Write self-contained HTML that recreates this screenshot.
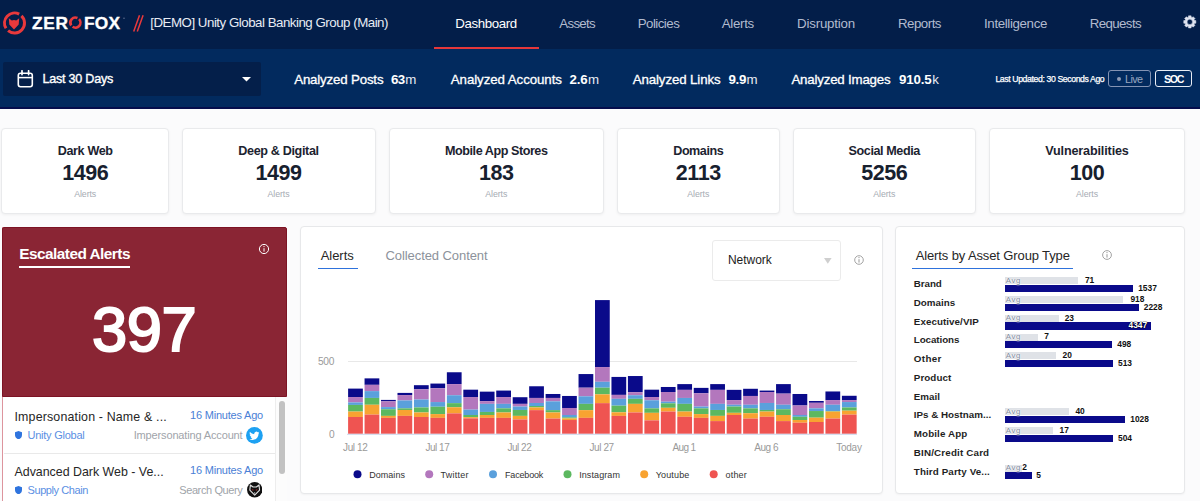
<!DOCTYPE html>
<html><head><meta charset="utf-8"><title>ZeroFox Dashboard</title>
<style>
html,body{margin:0;padding:0}
body{width:1200px;height:501px;overflow:hidden;position:relative;background:#fbfbfc;font-family:"Liberation Sans",sans-serif}
.b{position:absolute;display:block}
.t{position:absolute;white-space:nowrap;display:block}
</style></head><body>
<div class="b" style="left:0px;top:0px;width:1200px;height:49px;background:#031e49"></div>
<div class="b" style="left:0px;top:49px;width:1200px;height:59.5px;background:#022a5e;border-bottom:2px solid #050d4c;box-sizing:border-box"></div>
<div class="b" style="left:433.5px;top:46.7px;width:105px;height:2.3px;background:#e5373a"></div>
<svg class="b" style="left:0;top:0" width="200" height="49" viewBox="0 0 200 49">
<path d="M6.02 28.30A10.0 10.0 0 0 1 19.19 14.17" fill="none" stroke="#e8393c" stroke-width="3.0"/>
<path d="M21.45 15.81A10.0 10.0 0 0 1 8.07 30.66" fill="none" stroke="#e8393c" stroke-width="3.0"/>
<path d="M8.8 18.3L11.8 20.5L14.0 20.0L16.2 20.5L19.2 18.3L18.7 24.4L14.0 29.4L9.3 24.4Z" fill="#e8393c"/>
<path d="M71.21 25.42A5.05 5.05 0 0 1 77.45 17.99" fill="none" stroke="#e8393c" stroke-width="2.6"/>
<path d="M79.03 19.09A5.05 5.05 0 0 1 72.58 26.79" fill="none" stroke="#e8393c" stroke-width="2.6"/>
<circle cx="124" cy="18.2" r="0.8" fill="#5a6a8c"/>
<path d="M133.7 31.6L139.5 15.2M137.3 31.6L143.1 15.2" stroke="#e8393c" stroke-width="1.5" fill="none"/>
</svg>
<span class="t" style="left:32.00px;top:11.81px;font-size:17.3px;line-height:22px;color:#fff;font-weight:700;letter-spacing:0.767px;-webkit-text-stroke:0.35px #fff;">ZER</span>
<span class="t" style="left:84.00px;top:11.81px;font-size:17.3px;line-height:22px;color:#fff;font-weight:700;letter-spacing:0.212px;-webkit-text-stroke:0.35px #fff;">FOX</span>
<span class="t" style="left:150.30px;top:14.49px;font-size:13.3px;line-height:17px;color:#e8ecf4;letter-spacing:-0.488px;">[DEMO] Unity Global Banking Group (Main)</span>
<span class="t" style="left:455.30px;top:15.09px;font-size:13.3px;line-height:17px;color:#ffffff;letter-spacing:-0.407px;">Dashboard</span>
<span class="t" style="left:559.30px;top:15.09px;font-size:13.3px;line-height:17px;color:#b2bbcf;letter-spacing:-0.702px;">Assets</span>
<span class="t" style="left:637.70px;top:15.09px;font-size:13.3px;line-height:17px;color:#b2bbcf;letter-spacing:-0.529px;">Policies</span>
<span class="t" style="left:721.70px;top:15.09px;font-size:13.3px;line-height:17px;color:#b2bbcf;letter-spacing:-0.283px;">Alerts</span>
<span class="t" style="left:797.00px;top:15.09px;font-size:13.3px;line-height:17px;color:#b2bbcf;letter-spacing:-0.188px;">Disruption</span>
<span class="t" style="left:898.00px;top:15.09px;font-size:13.3px;line-height:17px;color:#b2bbcf;letter-spacing:-0.510px;">Reports</span>
<span class="t" style="left:984.00px;top:15.09px;font-size:13.3px;line-height:17px;color:#b2bbcf;letter-spacing:-0.357px;">Intelligence</span>
<span class="t" style="left:1089.80px;top:15.09px;font-size:13.3px;line-height:17px;color:#b2bbcf;letter-spacing:-0.623px;">Requests</span>
<div class="b" style="left:3px;top:62px;width:258px;height:33.5px;background:#041f4a;border-radius:2px"></div>
<span class="t" style="left:42.50px;top:70.63px;font-size:12.6px;line-height:16px;color:#ffffff;letter-spacing:-0.253px;-webkit-text-stroke:0.35px #fff;">Last 30 Days</span>
<svg class="b" style="left:17px;top:69.5px" width="17" height="18" viewBox="0 0 17 18"><rect x="1.3" y="3.2" width="14" height="13.6" rx="2.2" fill="none" stroke="#fff" stroke-width="1.6"/><path d="M1.3 7.6H15.3" stroke="#fff" stroke-width="1.5"/><path d="M5 0.8V4.6M11.6 0.8V4.6" stroke="#fff" stroke-width="1.7" stroke-linecap="round"/></svg><svg class="b" style="left:242.3px;top:77px" width="9" height="4.6" viewBox="0 0 90 46"><path d="M0 0H90L45 46Z" fill="#fff"/></svg>
<span class="t" style="left:294.20px;top:70.79px;font-size:13.3px;line-height:17px;color:#ffffff;letter-spacing:-0.177px;-webkit-text-stroke:0.3px #fff;">Analyzed Posts</span>
<span class="t" style="left:391.00px;top:70.79px;font-size:13.3px;line-height:17px;color:#ffffff;font-weight:700;letter-spacing:-0.597px;">63</span>
<span class="t" style="left:405.20px;top:70.79px;font-size:13.3px;line-height:17px;color:#e8ecf4;letter-spacing:0.521px;">m</span>
<span class="t" style="left:450.80px;top:70.79px;font-size:13.3px;line-height:17px;color:#ffffff;letter-spacing:-0.075px;-webkit-text-stroke:0.3px #fff;">Analyzed Accounts</span>
<span class="t" style="left:569.50px;top:70.79px;font-size:13.3px;line-height:17px;color:#ffffff;font-weight:700;letter-spacing:-0.196px;">2.6</span>
<span class="t" style="left:588.00px;top:70.79px;font-size:13.3px;line-height:17px;color:#e8ecf4;letter-spacing:0.221px;">m</span>
<span class="t" style="left:632.70px;top:70.79px;font-size:13.3px;line-height:17px;color:#ffffff;letter-spacing:-0.111px;-webkit-text-stroke:0.3px #fff;">Analyzed Links</span>
<span class="t" style="left:728.50px;top:70.79px;font-size:13.3px;line-height:17px;color:#ffffff;font-weight:700;letter-spacing:-0.330px;">9.9</span>
<span class="t" style="left:746.60px;top:70.79px;font-size:13.3px;line-height:17px;color:#e8ecf4;letter-spacing:-0.279px;">m</span>
<span class="t" style="left:791.40px;top:70.79px;font-size:13.3px;line-height:17px;color:#ffffff;letter-spacing:-0.195px;-webkit-text-stroke:0.3px #fff;">Analyzed Images</span>
<span class="t" style="left:899.00px;top:70.79px;font-size:13.3px;line-height:17px;color:#ffffff;font-weight:700;letter-spacing:-0.137px;">910.5</span>
<span class="t" style="left:932.20px;top:70.79px;font-size:13.3px;line-height:17px;color:#e8ecf4;letter-spacing:-0.150px;">k</span>
<span class="t" style="left:995.40px;top:73.79px;font-size:8.7px;line-height:11px;color:#ffffff;letter-spacing:-0.388px;-webkit-text-stroke:0.25px #fff;">Last Updated: 30 Seconds Ago</span>
<div class="b" style="left:1108.4px;top:70.3px;width:42.8px;height:17.1px;border:1.3px solid #8493b3;border-radius:3px;box-sizing:border-box"></div>
<div class="b" style="left:1117.4px;top:76.6px;width:4px;height:4px;background:#8e9bb6;border-radius:50%"></div>
<span class="t" style="left:1125.00px;top:71.66px;font-size:10.8px;line-height:14px;color:#9aa7c0;letter-spacing:-0.578px;">Live</span>
<div class="b" style="left:1155.2px;top:70.3px;width:37.1px;height:17.1px;border:1.4px solid #e8ecf4;border-radius:3px;box-sizing:border-box"></div>
<span class="t" style="left:1164.00px;top:71.73px;font-size:10.6px;line-height:14px;color:#ffffff;font-weight:700;letter-spacing:-1.323px;">SOC</span>
<svg class="b" style="left:1180px;top:12px" width="20" height="20" viewBox="0 0 20 20"><path d="M8.46 3.85L11.14 3.85L11.15 5.19L12.18 5.61L13.13 4.67L15.03 6.57L14.09 7.52L14.51 8.55L15.85 8.56L15.85 11.24L14.51 11.25L14.09 12.28L15.03 13.23L13.13 15.13L12.18 14.19L11.15 14.61L11.14 15.95L8.46 15.95L8.45 14.61L7.42 14.19L6.47 15.13L4.57 13.23L5.51 12.28L5.09 11.25L3.75 11.24L3.75 8.56L5.09 8.55L5.51 7.52L4.57 6.57L6.47 4.67L7.42 5.61L8.45 5.19ZM7.1000000000000005 9.9a2.7 2.7 0 1 0 5.4 0a2.7 2.7 0 1 0 -5.4 0Z" fill="#dfe3ef" fill-rule="evenodd" stroke="#dfe3ef" stroke-width="0.5" stroke-linejoin="round"/></svg>
<div class="b" style="left:1.4px;top:128px;width:167.6px;height:85.5px;background:#fff;border:1px solid #e9eaec;border-radius:4px;box-sizing:border-box;box-shadow:0 1px 3px rgba(0,0,0,.05)"></div>
<span class="t" style="left:57.70px;top:142.73px;font-size:12.6px;line-height:16px;color:#1c2330;font-weight:700;letter-spacing:-0.361px;">Dark Web</span>
<span class="t" style="left:62.24px;top:158.75px;font-size:21.5px;line-height:28px;color:#17202e;font-weight:700;letter-spacing:-0.478px;">1496</span>
<span class="t" style="left:74.20px;top:188.95px;font-size:8.8px;line-height:11px;color:#a6abb3;letter-spacing:-0.082px;">Alerts</span>
<div class="b" style="left:181.5px;top:128px;width:194.0px;height:85.5px;background:#fff;border:1px solid #e9eaec;border-radius:4px;box-sizing:border-box;box-shadow:0 1px 3px rgba(0,0,0,.05)"></div>
<span class="t" style="left:238.25px;top:142.73px;font-size:12.6px;line-height:16px;color:#1c2330;font-weight:700;letter-spacing:-0.351px;">Deep &amp; Digital</span>
<span class="t" style="left:255.54px;top:158.75px;font-size:21.5px;line-height:28px;color:#17202e;font-weight:700;letter-spacing:-0.478px;">1499</span>
<span class="t" style="left:267.50px;top:188.95px;font-size:8.8px;line-height:11px;color:#a6abb3;letter-spacing:-0.082px;">Alerts</span>
<div class="b" style="left:388.5px;top:128px;width:215.5px;height:85.5px;background:#fff;border:1px solid #e9eaec;border-radius:4px;box-sizing:border-box;box-shadow:0 1px 3px rgba(0,0,0,.05)"></div>
<span class="t" style="left:445.00px;top:142.73px;font-size:12.6px;line-height:16px;color:#1c2330;font-weight:700;letter-spacing:-0.449px;">Mobile App Stores</span>
<span class="t" style="left:479.03px;top:158.75px;font-size:21.5px;line-height:28px;color:#17202e;font-weight:700;letter-spacing:-0.478px;">183</span>
<span class="t" style="left:485.25px;top:188.95px;font-size:8.8px;line-height:11px;color:#a6abb3;letter-spacing:-0.082px;">Alerts</span>
<div class="b" style="left:616.5px;top:128px;width:163.5px;height:85.5px;background:#fff;border:1px solid #e9eaec;border-radius:4px;box-sizing:border-box;box-shadow:0 1px 3px rgba(0,0,0,.05)"></div>
<span class="t" style="left:673.25px;top:142.73px;font-size:12.6px;line-height:16px;color:#1c2330;font-weight:700;letter-spacing:-0.459px;">Domains</span>
<span class="t" style="left:675.86px;top:158.75px;font-size:21.5px;line-height:28px;color:#17202e;font-weight:700;letter-spacing:-0.466px;">2113</span>
<span class="t" style="left:687.25px;top:188.95px;font-size:8.8px;line-height:11px;color:#a6abb3;letter-spacing:-0.082px;">Alerts</span>
<div class="b" style="left:792.5px;top:128px;width:183.5px;height:85.5px;background:#fff;border:1px solid #e9eaec;border-radius:4px;box-sizing:border-box;box-shadow:0 1px 3px rgba(0,0,0,.05)"></div>
<span class="t" style="left:848.50px;top:142.73px;font-size:12.6px;line-height:16px;color:#1c2330;font-weight:700;letter-spacing:-0.402px;">Social Media</span>
<span class="t" style="left:861.29px;top:158.75px;font-size:21.5px;line-height:28px;color:#17202e;font-weight:700;letter-spacing:-0.478px;">5256</span>
<span class="t" style="left:873.25px;top:188.95px;font-size:8.8px;line-height:11px;color:#a6abb3;letter-spacing:-0.082px;">Alerts</span>
<div class="b" style="left:989px;top:128px;width:196px;height:85.5px;background:#fff;border:1px solid #e9eaec;border-radius:4px;box-sizing:border-box;box-shadow:0 1px 3px rgba(0,0,0,.05)"></div>
<span class="t" style="left:1045.25px;top:142.73px;font-size:12.6px;line-height:16px;color:#1c2330;font-weight:700;letter-spacing:-0.144px;">Vulnerabilities</span>
<span class="t" style="left:1069.78px;top:158.75px;font-size:21.5px;line-height:28px;color:#17202e;font-weight:700;letter-spacing:-0.478px;">100</span>
<span class="t" style="left:1076.00px;top:188.95px;font-size:8.8px;line-height:11px;color:#a6abb3;letter-spacing:-0.082px;">Alerts</span>
<div class="b" style="left:1.7px;top:226.7px;width:285.3px;height:275px;background:#fff;border-left:1.5px solid #dd949d;box-sizing:border-box"></div>
<div class="b" style="left:1.7px;top:226.5px;width:285.3px;height:170.5px;background:#8a2534;border-radius:2px 2px 0 0;border:1px solid #7c1324;box-sizing:border-box"></div>
<span class="t" style="left:19.20px;top:243.56px;font-size:15.4px;line-height:20px;color:#ffffff;font-weight:700;letter-spacing:-0.529px;">Escalated Alerts</span>
<div class="b" style="left:19.2px;top:266.3px;width:110.8px;height:2.2px;background:#fff"></div>
<span class="t" style="left:92.10px;top:288.07px;font-size:63.3px;line-height:82px;color:#ffffff;letter-spacing:-0.438px;-webkit-text-stroke:2px #fff;">397</span>
<svg class="b" style="left:256.4px;top:240.8px" width="16" height="16" viewBox="0 0 16 16"><circle cx="8" cy="8" r="4.6" fill="none" stroke="#fff" stroke-width="1.0"/><path d="M8 7.2V10.6" stroke="#fff" stroke-width="1"/><circle cx="8" cy="5.6" r="0.65" fill="#fff"/></svg>
<span class="t" style="left:14.50px;top:408.90px;font-size:12.4px;line-height:16px;color:#262626;letter-spacing:0.167px;">Impersonation - Name &amp; ...</span>
<span class="t" style="left:190.00px;top:408.39px;font-size:11px;line-height:14px;color:#4a80d6;letter-spacing:-0.202px;">16 Minutes Ago</span>
<span class="t" style="left:27.50px;top:427.89px;font-size:11px;line-height:14px;color:#5b8fe3;letter-spacing:-0.243px;">Unity Global</span>
<span class="t" style="left:133.70px;top:427.89px;font-size:11px;line-height:14px;color:#a0a4aa;letter-spacing:-0.148px;">Impersonating Account</span>
<span class="t" style="left:14.50px;top:463.90px;font-size:12.4px;line-height:16px;color:#262626;letter-spacing:-0.005px;">Advanced Dark Web - Ve...</span>
<span class="t" style="left:190.00px;top:463.39px;font-size:11px;line-height:14px;color:#4a80d6;letter-spacing:-0.202px;">16 Minutes Ago</span>
<span class="t" style="left:27.50px;top:482.89px;font-size:11px;line-height:14px;color:#5b8fe3;letter-spacing:-0.411px;">Supply Chain</span>
<span class="t" style="left:179.20px;top:482.89px;font-size:11px;line-height:14px;color:#a0a4aa;letter-spacing:-0.380px;">Search Query</span>
<div class="b" style="left:3.5px;top:453px;width:271px;height:1px;background:#e9e9e9"></div>
<div class="b" style="left:274.5px;top:397px;width:12px;height:104px;background:#fcfcfc;border-left:1px solid #ededed;box-sizing:border-box"></div>
<div class="b" style="left:278.7px;top:400.5px;width:6.3px;height:73.2px;background:#c2c2c2;border-radius:3px"></div>
<svg class="b" style="left:14.5px;top:431px" width="7" height="8.4" viewBox="0 0 70 84"><path d="M35 0L70 12V40C70 62 54 78 35 84C16 78 0 62 0 40V12Z" fill="#2f74de"/></svg><svg class="b" style="left:14.5px;top:485.5px" width="7" height="8.4" viewBox="0 0 70 84"><path d="M35 0L70 12V40C70 62 54 78 35 84C16 78 0 62 0 40V12Z" fill="#2f74de"/></svg><svg class="b" style="left:246.1px;top:427.3px" width="16.8" height="16.8" viewBox="0 0 24 24"><circle cx="12" cy="12" r="12" fill="#1da1f2"/><path d="M19.2 8.1c-.5.2-1.1.4-1.7.5.6-.4 1.1-1 1.3-1.7-.6.3-1.2.6-1.9.7a3 3 0 0 0-5.100 2.700A8.400 8.400 0 0 1 5.700 7.200a3 3 0 0 0 .900 4 3 3 0 0 1-1.300-.4c0 1.500 1 2.700 2.400 3-.4.100-.9.100-1.300 0a3 3 0 0 0 2.800 2.100 6 6 0 0 1-4.400 1.200 8.400 8.400 0 0 0 4.600 1.300c5.500 0 8.500-4.600 8.500-8.500v-.400c.600-.4 1.100-.9 1.500-1.500z" fill="#fff"/></svg><svg class="b" style="left:247px;top:482.3px" width="15.4" height="15.4" viewBox="0 0 24 24"><circle cx="12" cy="12" r="12" fill="#111"/><path d="M5.200 4.600L9.400 7.800H14.600L18.800 4.600L19.600 12.600L12 20.400L4.400 12.600Z" fill="none" stroke="#e4e4e4" stroke-width="1.700" stroke-linejoin="round"/><path d="M12 15.600V18.500" stroke="#cfcfcf" stroke-width="1.100" fill="none"/><path d="M7.600 11.200L10.900 12.500L8.600 13.400Z" fill="#e5373a"/><path d="M16.400 11.200L13.100 12.500L15.400 13.400Z" fill="#e5373a"/></svg>
<div class="b" style="left:300px;top:226.2px;width:582.5px;height:267.6px;background:#fff;border:1px solid #e7e8ea;border-radius:4px;box-sizing:border-box;box-shadow:0 1px 2px rgba(0,0,0,.04)"></div>
<span class="t" style="left:320.70px;top:247.00px;font-size:13px;line-height:17px;color:#262626;letter-spacing:-0.038px;">Alerts</span>
<div class="b" style="left:317.5px;top:267.5px;width:40px;height:1.5px;background:#2e72dc"></div>
<span class="t" style="left:385.50px;top:247.00px;font-size:13px;line-height:17px;color:#8c929b;letter-spacing:-0.079px;">Collected Content</span>
<div class="b" style="left:711.5px;top:240.3px;width:129.8px;height:40.5px;background:#fff;border:1px solid #ebebeb;border-radius:3px;box-sizing:border-box"></div>
<span class="t" style="left:728.00px;top:252.44px;font-size:12px;line-height:16px;color:#1c1c1c;letter-spacing:-0.044px;">Network</span>
<svg class="b" style="left:824.2px;top:258px" width="7.6" height="5.8" viewBox="0 0 76 58"><path d="M0 0H76L38 58Z" fill="#cfcfcf"/></svg>
<svg class="b" style="left:851.2px;top:251.7px" width="16" height="16" viewBox="0 0 16 16"><circle cx="8" cy="8" r="4.3" fill="none" stroke="#999" stroke-width="0.9"/><path d="M8 7.2V10.6" stroke="#999" stroke-width="1"/><circle cx="8" cy="5.6" r="0.65" fill="#999"/></svg>
<svg class="b" style="left:0;top:0" width="1200" height="501" viewBox="0 0 1200 501">
<rect x="348" y="361" width="509" height="1" fill="#e8e8e8"/>
<rect x="348.10" y="388.60" width="14.75" height="8.44" fill="#0a0a8a"/>
<rect x="348.10" y="397.04" width="14.75" height="5.39" fill="#b377bd"/>
<rect x="348.10" y="402.42" width="14.75" height="2.51" fill="#5aa0dc"/>
<rect x="348.10" y="404.94" width="14.75" height="6.64" fill="#5cb860"/>
<rect x="348.10" y="411.58" width="14.75" height="5.39" fill="#f8a331"/>
<rect x="348.10" y="416.97" width="14.75" height="16.83" fill="#ef5451"/>
<rect x="364.56" y="378.37" width="14.75" height="6.46" fill="#0a0a8a"/>
<rect x="364.56" y="384.83" width="14.75" height="6.28" fill="#b377bd"/>
<rect x="364.56" y="391.11" width="14.75" height="6.82" fill="#5aa0dc"/>
<rect x="364.56" y="397.94" width="14.75" height="6.82" fill="#5cb860"/>
<rect x="364.56" y="404.76" width="14.75" height="9.87" fill="#f8a331"/>
<rect x="364.56" y="414.63" width="14.75" height="19.17" fill="#ef5451"/>
<rect x="381.02" y="399.91" width="14.75" height="1.44" fill="#0a0a8a"/>
<rect x="381.02" y="401.35" width="14.75" height="5.75" fill="#b377bd"/>
<rect x="381.02" y="407.09" width="14.75" height="2.15" fill="#5aa0dc"/>
<rect x="381.02" y="409.25" width="14.75" height="6.64" fill="#5cb860"/>
<rect x="381.02" y="415.89" width="14.75" height="1.97" fill="#f8a331"/>
<rect x="381.02" y="417.86" width="14.75" height="15.94" fill="#ef5451"/>
<rect x="397.48" y="392.91" width="14.75" height="2.15" fill="#0a0a8a"/>
<rect x="397.48" y="395.06" width="14.75" height="5.39" fill="#b377bd"/>
<rect x="397.48" y="400.45" width="14.75" height="7.90" fill="#5aa0dc"/>
<rect x="397.48" y="408.35" width="14.75" height="1.62" fill="#5cb860"/>
<rect x="397.48" y="409.96" width="14.75" height="5.92" fill="#f8a331"/>
<rect x="397.48" y="415.89" width="14.75" height="17.91" fill="#ef5451"/>
<rect x="413.94" y="385.19" width="14.75" height="4.13" fill="#0a0a8a"/>
<rect x="413.94" y="389.32" width="14.75" height="10.23" fill="#b377bd"/>
<rect x="413.94" y="399.55" width="14.75" height="7.90" fill="#5aa0dc"/>
<rect x="413.94" y="407.45" width="14.75" height="5.03" fill="#5cb860"/>
<rect x="413.94" y="412.48" width="14.75" height="4.49" fill="#f8a331"/>
<rect x="413.94" y="416.97" width="14.75" height="16.83" fill="#ef5451"/>
<rect x="430.40" y="383.57" width="14.75" height="4.67" fill="#0a0a8a"/>
<rect x="430.40" y="388.24" width="14.75" height="13.82" fill="#b377bd"/>
<rect x="430.40" y="402.06" width="14.75" height="4.67" fill="#5aa0dc"/>
<rect x="430.40" y="406.73" width="14.75" height="7.36" fill="#5cb860"/>
<rect x="430.40" y="414.09" width="14.75" height="3.77" fill="#f8a331"/>
<rect x="430.40" y="417.86" width="14.75" height="15.94" fill="#ef5451"/>
<rect x="446.86" y="372.26" width="14.75" height="11.85" fill="#0a0a8a"/>
<rect x="446.86" y="384.11" width="14.75" height="11.13" fill="#b377bd"/>
<rect x="446.86" y="395.24" width="14.75" height="7.90" fill="#5aa0dc"/>
<rect x="446.86" y="403.14" width="14.75" height="4.13" fill="#5cb860"/>
<rect x="446.86" y="407.27" width="14.75" height="6.10" fill="#f8a331"/>
<rect x="446.86" y="413.38" width="14.75" height="20.42" fill="#ef5451"/>
<rect x="463.32" y="389.68" width="14.75" height="7.36" fill="#0a0a8a"/>
<rect x="463.32" y="397.04" width="14.75" height="12.57" fill="#b377bd"/>
<rect x="463.32" y="409.61" width="14.75" height="5.39" fill="#5aa0dc"/>
<rect x="463.32" y="414.99" width="14.75" height="2.15" fill="#5cb860"/>
<rect x="463.32" y="417.15" width="14.75" height="1.26" fill="#f8a331"/>
<rect x="463.32" y="418.40" width="14.75" height="15.40" fill="#ef5451"/>
<rect x="479.78" y="391.65" width="14.75" height="9.52" fill="#0a0a8a"/>
<rect x="479.78" y="401.17" width="14.75" height="2.69" fill="#b377bd"/>
<rect x="479.78" y="403.86" width="14.75" height="8.08" fill="#5aa0dc"/>
<rect x="479.78" y="411.94" width="14.75" height="3.05" fill="#5cb860"/>
<rect x="479.78" y="414.99" width="14.75" height="2.87" fill="#f8a331"/>
<rect x="479.78" y="417.86" width="14.75" height="15.94" fill="#ef5451"/>
<rect x="496.24" y="390.57" width="14.75" height="6.46" fill="#0a0a8a"/>
<rect x="496.24" y="397.04" width="14.75" height="6.82" fill="#b377bd"/>
<rect x="496.24" y="403.86" width="14.75" height="4.49" fill="#5aa0dc"/>
<rect x="496.24" y="408.35" width="14.75" height="4.13" fill="#5cb860"/>
<rect x="496.24" y="412.48" width="14.75" height="5.39" fill="#f8a331"/>
<rect x="496.24" y="417.86" width="14.75" height="15.94" fill="#ef5451"/>
<rect x="512.70" y="397.22" width="14.75" height="6.64" fill="#0a0a8a"/>
<rect x="512.70" y="403.86" width="14.75" height="2.69" fill="#b377bd"/>
<rect x="512.70" y="406.55" width="14.75" height="3.41" fill="#5aa0dc"/>
<rect x="512.70" y="409.96" width="14.75" height="5.92" fill="#5cb860"/>
<rect x="512.70" y="415.89" width="14.75" height="3.59" fill="#f8a331"/>
<rect x="512.70" y="419.48" width="14.75" height="14.32" fill="#ef5451"/>
<rect x="529.16" y="386.27" width="14.75" height="11.67" fill="#0a0a8a"/>
<rect x="529.16" y="397.94" width="14.75" height="5.03" fill="#b377bd"/>
<rect x="529.16" y="402.96" width="14.75" height="3.05" fill="#5aa0dc"/>
<rect x="529.16" y="406.01" width="14.75" height="1.44" fill="#5cb860"/>
<rect x="529.16" y="407.45" width="14.75" height="2.69" fill="#f8a331"/>
<rect x="529.16" y="410.14" width="14.75" height="23.66" fill="#ef5451"/>
<rect x="545.62" y="393.99" width="14.75" height="3.95" fill="#0a0a8a"/>
<rect x="545.62" y="397.94" width="14.75" height="3.41" fill="#b377bd"/>
<rect x="545.62" y="401.35" width="14.75" height="8.80" fill="#5aa0dc"/>
<rect x="545.62" y="410.14" width="14.75" height="2.33" fill="#5cb860"/>
<rect x="545.62" y="412.48" width="14.75" height="6.10" fill="#f8a331"/>
<rect x="545.62" y="418.58" width="14.75" height="15.22" fill="#ef5451"/>
<rect x="562.08" y="395.96" width="14.75" height="12.03" fill="#0a0a8a"/>
<rect x="562.08" y="407.99" width="14.75" height="7.00" fill="#b377bd"/>
<rect x="562.08" y="414.99" width="14.75" height="2.33" fill="#5aa0dc"/>
<rect x="562.08" y="417.32" width="14.75" height="1.08" fill="#5cb860"/>
<rect x="562.08" y="418.40" width="14.75" height="1.62" fill="#f8a331"/>
<rect x="562.08" y="420.02" width="14.75" height="13.78" fill="#ef5451"/>
<rect x="578.54" y="374.06" width="14.75" height="13.64" fill="#0a0a8a"/>
<rect x="578.54" y="387.70" width="14.75" height="8.62" fill="#b377bd"/>
<rect x="578.54" y="396.32" width="14.75" height="7.54" fill="#5aa0dc"/>
<rect x="578.54" y="403.86" width="14.75" height="6.28" fill="#5cb860"/>
<rect x="578.54" y="410.14" width="14.75" height="7.72" fill="#f8a331"/>
<rect x="578.54" y="417.86" width="14.75" height="15.94" fill="#ef5451"/>
<rect x="595.00" y="300.09" width="14.75" height="66.97" fill="#0a0a8a"/>
<rect x="595.00" y="367.06" width="14.75" height="14.72" fill="#b377bd"/>
<rect x="595.00" y="381.78" width="14.75" height="5.92" fill="#5aa0dc"/>
<rect x="595.00" y="387.70" width="14.75" height="6.64" fill="#5cb860"/>
<rect x="595.00" y="394.34" width="14.75" height="8.80" fill="#f8a331"/>
<rect x="595.00" y="403.14" width="14.75" height="30.66" fill="#ef5451"/>
<rect x="611.46" y="376.93" width="14.75" height="17.95" fill="#0a0a8a"/>
<rect x="611.46" y="394.88" width="14.75" height="3.95" fill="#b377bd"/>
<rect x="611.46" y="398.83" width="14.75" height="6.82" fill="#5aa0dc"/>
<rect x="611.46" y="405.66" width="14.75" height="6.64" fill="#5cb860"/>
<rect x="611.46" y="412.30" width="14.75" height="3.59" fill="#f8a331"/>
<rect x="611.46" y="415.89" width="14.75" height="17.91" fill="#ef5451"/>
<rect x="627.92" y="376.03" width="14.75" height="16.16" fill="#0a0a8a"/>
<rect x="627.92" y="392.19" width="14.75" height="3.05" fill="#b377bd"/>
<rect x="627.92" y="395.24" width="14.75" height="3.59" fill="#5aa0dc"/>
<rect x="627.92" y="398.83" width="14.75" height="5.03" fill="#5cb860"/>
<rect x="627.92" y="403.86" width="14.75" height="8.62" fill="#f8a331"/>
<rect x="627.92" y="412.48" width="14.75" height="21.32" fill="#ef5451"/>
<rect x="644.38" y="389.68" width="14.75" height="7.36" fill="#0a0a8a"/>
<rect x="644.38" y="397.04" width="14.75" height="3.23" fill="#b377bd"/>
<rect x="644.38" y="400.27" width="14.75" height="8.08" fill="#5aa0dc"/>
<rect x="644.38" y="408.35" width="14.75" height="4.49" fill="#5cb860"/>
<rect x="644.38" y="412.84" width="14.75" height="7.54" fill="#f8a331"/>
<rect x="644.38" y="420.38" width="14.75" height="13.42" fill="#ef5451"/>
<rect x="660.84" y="386.98" width="14.75" height="5.03" fill="#0a0a8a"/>
<rect x="660.84" y="392.01" width="14.75" height="9.69" fill="#b377bd"/>
<rect x="660.84" y="401.71" width="14.75" height="1.62" fill="#5aa0dc"/>
<rect x="660.84" y="403.32" width="14.75" height="4.49" fill="#5cb860"/>
<rect x="660.84" y="407.81" width="14.75" height="3.77" fill="#f8a331"/>
<rect x="660.84" y="411.58" width="14.75" height="22.22" fill="#ef5451"/>
<rect x="677.30" y="384.11" width="14.75" height="5.75" fill="#0a0a8a"/>
<rect x="677.30" y="389.86" width="14.75" height="8.08" fill="#b377bd"/>
<rect x="677.30" y="397.94" width="14.75" height="5.92" fill="#5aa0dc"/>
<rect x="677.30" y="403.86" width="14.75" height="7.72" fill="#5cb860"/>
<rect x="677.30" y="411.58" width="14.75" height="5.21" fill="#f8a331"/>
<rect x="677.30" y="416.79" width="14.75" height="17.01" fill="#ef5451"/>
<rect x="693.76" y="387.88" width="14.75" height="5.39" fill="#0a0a8a"/>
<rect x="693.76" y="393.27" width="14.75" height="13.29" fill="#b377bd"/>
<rect x="693.76" y="406.55" width="14.75" height="1.80" fill="#5aa0dc"/>
<rect x="693.76" y="408.35" width="14.75" height="5.75" fill="#5cb860"/>
<rect x="693.76" y="414.09" width="14.75" height="3.77" fill="#f8a331"/>
<rect x="693.76" y="417.86" width="14.75" height="15.94" fill="#ef5451"/>
<rect x="710.22" y="384.11" width="14.75" height="5.75" fill="#0a0a8a"/>
<rect x="710.22" y="389.86" width="14.75" height="14.00" fill="#b377bd"/>
<rect x="710.22" y="403.86" width="14.75" height="6.10" fill="#5aa0dc"/>
<rect x="710.22" y="409.96" width="14.75" height="5.92" fill="#5cb860"/>
<rect x="710.22" y="415.89" width="14.75" height="5.21" fill="#f8a331"/>
<rect x="710.22" y="421.10" width="14.75" height="12.70" fill="#ef5451"/>
<rect x="726.68" y="389.86" width="14.75" height="10.23" fill="#0a0a8a"/>
<rect x="726.68" y="400.09" width="14.75" height="4.67" fill="#b377bd"/>
<rect x="726.68" y="404.76" width="14.75" height="1.80" fill="#5aa0dc"/>
<rect x="726.68" y="406.55" width="14.75" height="6.28" fill="#5cb860"/>
<rect x="726.68" y="412.84" width="14.75" height="2.15" fill="#f8a331"/>
<rect x="726.68" y="414.99" width="14.75" height="18.81" fill="#ef5451"/>
<rect x="743.14" y="388.78" width="14.75" height="7.18" fill="#0a0a8a"/>
<rect x="743.14" y="395.96" width="14.75" height="8.80" fill="#b377bd"/>
<rect x="743.14" y="404.76" width="14.75" height="3.59" fill="#5aa0dc"/>
<rect x="743.14" y="408.35" width="14.75" height="4.85" fill="#5cb860"/>
<rect x="743.14" y="413.20" width="14.75" height="5.39" fill="#f8a331"/>
<rect x="743.14" y="418.58" width="14.75" height="15.22" fill="#ef5451"/>
<rect x="759.60" y="390.57" width="14.75" height="1.44" fill="#0a0a8a"/>
<rect x="759.60" y="392.01" width="14.75" height="10.95" fill="#b377bd"/>
<rect x="759.60" y="402.96" width="14.75" height="7.00" fill="#5aa0dc"/>
<rect x="759.60" y="409.96" width="14.75" height="1.62" fill="#5cb860"/>
<rect x="759.60" y="411.58" width="14.75" height="5.21" fill="#f8a331"/>
<rect x="759.60" y="416.79" width="14.75" height="17.01" fill="#ef5451"/>
<rect x="776.06" y="384.11" width="14.75" height="9.52" fill="#0a0a8a"/>
<rect x="776.06" y="393.63" width="14.75" height="11.13" fill="#b377bd"/>
<rect x="776.06" y="404.76" width="14.75" height="4.49" fill="#5aa0dc"/>
<rect x="776.06" y="409.25" width="14.75" height="5.75" fill="#5cb860"/>
<rect x="776.06" y="414.99" width="14.75" height="6.10" fill="#f8a331"/>
<rect x="776.06" y="421.10" width="14.75" height="12.70" fill="#ef5451"/>
<rect x="792.52" y="393.99" width="14.75" height="11.49" fill="#0a0a8a"/>
<rect x="792.52" y="405.48" width="14.75" height="9.52" fill="#b377bd"/>
<rect x="792.52" y="414.99" width="14.75" height="1.80" fill="#5aa0dc"/>
<rect x="792.52" y="416.79" width="14.75" height="3.23" fill="#5cb860"/>
<rect x="792.52" y="420.02" width="14.75" height="2.69" fill="#f8a331"/>
<rect x="792.52" y="422.71" width="14.75" height="11.09" fill="#ef5451"/>
<rect x="808.98" y="400.99" width="14.75" height="1.80" fill="#0a0a8a"/>
<rect x="808.98" y="402.78" width="14.75" height="5.57" fill="#b377bd"/>
<rect x="808.98" y="408.35" width="14.75" height="2.69" fill="#5aa0dc"/>
<rect x="808.98" y="411.04" width="14.75" height="6.64" fill="#5cb860"/>
<rect x="808.98" y="417.68" width="14.75" height="4.31" fill="#f8a331"/>
<rect x="808.98" y="421.99" width="14.75" height="11.81" fill="#ef5451"/>
<rect x="825.44" y="391.47" width="14.75" height="8.62" fill="#0a0a8a"/>
<rect x="825.44" y="400.09" width="14.75" height="4.67" fill="#b377bd"/>
<rect x="825.44" y="404.76" width="14.75" height="6.28" fill="#5aa0dc"/>
<rect x="825.44" y="411.04" width="14.75" height="0.54" fill="#5cb860"/>
<rect x="825.44" y="411.58" width="14.75" height="7.00" fill="#f8a331"/>
<rect x="825.44" y="418.58" width="14.75" height="15.22" fill="#ef5451"/>
<rect x="841.90" y="395.78" width="14.75" height="4.31" fill="#0a0a8a"/>
<rect x="841.90" y="400.09" width="14.75" height="1.97" fill="#b377bd"/>
<rect x="841.90" y="402.06" width="14.75" height="5.39" fill="#5aa0dc"/>
<rect x="841.90" y="407.45" width="14.75" height="3.23" fill="#5cb860"/>
<rect x="841.90" y="410.68" width="14.75" height="3.95" fill="#f8a331"/>
<rect x="841.90" y="414.63" width="14.75" height="19.17" fill="#ef5451"/>
<rect x="347" y="433.8" width="510" height="1" fill="#ccd6eb"/>
<circle cx="357.5" cy="474.2" r="4" fill="#0a0a8a"/>
<circle cx="429.2" cy="474.2" r="4" fill="#b377bd"/>
<circle cx="493" cy="474.2" r="4" fill="#5aa0dc"/>
<circle cx="567.5" cy="474.2" r="4" fill="#5cb860"/>
<circle cx="644.2" cy="474.2" r="4" fill="#f8a331"/>
<circle cx="713.7" cy="474.2" r="4" fill="#ef5451"/>
</svg>
<span class="t" style="left:329.00px;top:428.07px;font-size:10.2px;line-height:13px;color:#9a9a9a;letter-spacing:-0.673px;">0</span>
<span class="t" style="left:318.00px;top:354.77px;font-size:10.2px;line-height:13px;color:#9a9a9a;letter-spacing:-0.306px;">500</span>
<span class="t" style="left:343.00px;top:440.64px;font-size:10px;line-height:13px;color:#9a9a9a;letter-spacing:-0.364px;">Jul 12</span>
<span class="t" style="left:425.50px;top:440.64px;font-size:10px;line-height:13px;color:#9a9a9a;letter-spacing:-0.497px;">Jul 17</span>
<span class="t" style="left:507.50px;top:440.64px;font-size:10px;line-height:13px;color:#9a9a9a;letter-spacing:-0.497px;">Jul 22</span>
<span class="t" style="left:589.50px;top:440.64px;font-size:10px;line-height:13px;color:#9a9a9a;letter-spacing:-0.414px;">Jul 27</span>
<span class="t" style="left:672.50px;top:440.64px;font-size:10px;line-height:13px;color:#9a9a9a;letter-spacing:-0.627px;">Aug 1</span>
<span class="t" style="left:754.20px;top:440.64px;font-size:10px;line-height:13px;color:#9a9a9a;letter-spacing:-0.467px;">Aug 6</span>
<span class="t" style="left:836.20px;top:440.64px;font-size:10px;line-height:13px;color:#9a9a9a;letter-spacing:-0.237px;">Today</span>
<span class="t" style="left:369.20px;top:468.58px;font-size:9px;line-height:12px;color:#333;letter-spacing:0.041px;">Domains</span>
<span class="t" style="left:440.50px;top:468.58px;font-size:9px;line-height:12px;color:#333;letter-spacing:0.242px;">Twitter</span>
<span class="t" style="left:505.00px;top:468.58px;font-size:9px;line-height:12px;color:#333;letter-spacing:-0.166px;">Facebook</span>
<span class="t" style="left:579.20px;top:468.58px;font-size:9px;line-height:12px;color:#333;letter-spacing:0.087px;">Instagram</span>
<span class="t" style="left:655.70px;top:468.58px;font-size:9px;line-height:12px;color:#333;letter-spacing:0.157px;">Youtube</span>
<span class="t" style="left:725.50px;top:468.58px;font-size:9px;line-height:12px;color:#333;letter-spacing:0.197px;">other</span>
<div class="b" style="left:895.3px;top:226.2px;width:289.4px;height:267.8px;background:#fff;border:1px solid #e7e8ea;border-radius:4px;box-sizing:border-box;box-shadow:0 1px 2px rgba(0,0,0,.04)"></div>
<span class="t" style="left:915.70px;top:247.00px;font-size:13px;line-height:17px;color:#262626;letter-spacing:-0.122px;">Alerts by Asset Group Type</span>
<div class="b" style="left:912.4px;top:267.5px;width:160.7px;height:1.5px;background:#2e72dc"></div>
<svg class="b" style="left:1098.7px;top:247px" width="16" height="16" viewBox="0 0 16 16"><circle cx="8" cy="8" r="4.4" fill="none" stroke="#999" stroke-width="0.9"/><path d="M8 7.2V10.6" stroke="#999" stroke-width="1"/><circle cx="8" cy="5.6" r="0.65" fill="#999"/></svg>
<span class="t" style="left:913.80px;top:277.20px;font-size:9.8px;line-height:13px;color:#1f1f1f;font-weight:700;letter-spacing:-0.083px;">Brand</span>
<div class="b" style="left:1004.7px;top:277.3px;width:73.2px;height:7px;background:#dfe2e7"></div>
<span class="t" style="left:1005.80px;top:276.00px;font-size:7.8px;line-height:10px;color:#7f8a9c;letter-spacing:0.567px;text-shadow:0 0 1.5px #fff,0 0 1.5px #fff,0 0 1px #fff;z-index:3;">Avg</span>
<div class="b" style="left:1004.7px;top:284.9px;width:128.0px;height:7.2px;background:#0a0a8a"></div>
<span class="t" style="left:1084.90px;top:275.09px;font-size:8.4px;line-height:11px;color:#111;font-weight:700;">71</span>
<span class="t" style="left:1138.20px;top:282.89px;font-size:8.4px;line-height:11px;color:#111;font-weight:700;">1537</span>
<span class="t" style="left:913.80px;top:295.94px;font-size:9.8px;line-height:13px;color:#1f1f1f;font-weight:700;">Domains</span>
<div class="b" style="left:1004.7px;top:296.04px;width:118.7px;height:7px;background:#dfe2e7"></div>
<span class="t" style="left:1005.80px;top:294.74px;font-size:7.8px;line-height:10px;color:#7f8a9c;letter-spacing:0.567px;text-shadow:0 0 1.5px #fff,0 0 1.5px #fff,0 0 1px #fff;z-index:3;">Avg</span>
<div class="b" style="left:1004.7px;top:303.64px;width:134.1px;height:7.2px;background:#0a0a8a"></div>
<span class="t" style="left:1130.40px;top:293.83px;font-size:8.4px;line-height:11px;color:#111;font-weight:700;">918</span>
<span class="t" style="left:1143.80px;top:301.63px;font-size:8.4px;line-height:11px;color:#111;font-weight:700;">2228</span>
<span class="t" style="left:913.80px;top:314.68px;font-size:9.8px;line-height:13px;color:#1f1f1f;font-weight:700;letter-spacing:0.063px;">Executive/VIP</span>
<div class="b" style="left:1004.7px;top:314.78px;width:53.9px;height:7px;background:#dfe2e7"></div>
<span class="t" style="left:1005.80px;top:313.48px;font-size:7.8px;line-height:10px;color:#7f8a9c;letter-spacing:0.567px;text-shadow:0 0 1.5px #fff,0 0 1.5px #fff,0 0 1px #fff;z-index:3;">Avg</span>
<div class="b" style="left:1004.7px;top:322.38px;width:146.7px;height:7.2px;background:#0a0a8a"></div>
<span class="t" style="left:1064.70px;top:312.57px;font-size:8.4px;line-height:11px;color:#111;font-weight:700;">23</span>
<span class="t" style="left:1128.50px;top:320.37px;font-size:8.4px;line-height:11px;color:#fff;font-weight:700;text-shadow:0 0 1px #000,0 0 1px #000,0 0 1px #000;">4347</span>
<span class="t" style="left:913.80px;top:333.42px;font-size:9.8px;line-height:13px;color:#1f1f1f;font-weight:700;letter-spacing:-0.076px;">Locations</span>
<div class="b" style="left:1004.7px;top:333.52px;width:32.9px;height:7px;background:#dfe2e7"></div>
<span class="t" style="left:1005.80px;top:332.22px;font-size:7.8px;line-height:10px;color:#7f8a9c;letter-spacing:0.567px;text-shadow:0 0 1.5px #fff,0 0 1.5px #fff,0 0 1px #fff;z-index:3;">Avg</span>
<div class="b" style="left:1004.7px;top:341.12px;width:107.6px;height:7.2px;background:#0a0a8a"></div>
<span class="t" style="left:1044.30px;top:331.31px;font-size:8.4px;line-height:11px;color:#111;font-weight:700;">7</span>
<span class="t" style="left:1117.30px;top:339.11px;font-size:8.4px;line-height:11px;color:#111;font-weight:700;">498</span>
<span class="t" style="left:913.80px;top:352.16px;font-size:9.8px;line-height:13px;color:#1f1f1f;font-weight:700;letter-spacing:0.353px;">Other</span>
<div class="b" style="left:1004.7px;top:352.26px;width:51.3px;height:7px;background:#dfe2e7"></div>
<span class="t" style="left:1005.80px;top:350.96px;font-size:7.8px;line-height:10px;color:#7f8a9c;letter-spacing:0.567px;text-shadow:0 0 1.5px #fff,0 0 1.5px #fff,0 0 1px #fff;z-index:3;">Avg</span>
<div class="b" style="left:1004.7px;top:359.86px;width:108.6px;height:7.2px;background:#0a0a8a"></div>
<span class="t" style="left:1062.50px;top:350.05px;font-size:8.4px;line-height:11px;color:#111;font-weight:700;">20</span>
<span class="t" style="left:1118.00px;top:357.85px;font-size:8.4px;line-height:11px;color:#111;font-weight:700;">513</span>
<span class="t" style="left:913.80px;top:370.90px;font-size:9.8px;line-height:13px;color:#1f1f1f;font-weight:700;letter-spacing:0.082px;">Product</span>
<span class="t" style="left:913.80px;top:389.64px;font-size:9.8px;line-height:13px;color:#1f1f1f;font-weight:700;letter-spacing:0.031px;">Email</span>
<span class="t" style="left:913.80px;top:408.38px;font-size:9.8px;line-height:13px;color:#1f1f1f;font-weight:700;">IPs &amp; Hostnam...</span>
<div class="b" style="left:1004.7px;top:408.48px;width:63.9px;height:7px;background:#dfe2e7"></div>
<span class="t" style="left:1005.80px;top:407.18px;font-size:7.8px;line-height:10px;color:#7f8a9c;letter-spacing:0.567px;text-shadow:0 0 1.5px #fff,0 0 1.5px #fff,0 0 1px #fff;z-index:3;">Avg</span>
<div class="b" style="left:1004.7px;top:416.08px;width:120.8px;height:7.2px;background:#0a0a8a"></div>
<span class="t" style="left:1075.40px;top:406.27px;font-size:8.4px;line-height:11px;color:#111;font-weight:700;">40</span>
<span class="t" style="left:1130.30px;top:414.07px;font-size:8.4px;line-height:11px;color:#111;font-weight:700;">1028</span>
<span class="t" style="left:913.80px;top:427.12px;font-size:9.8px;line-height:13px;color:#1f1f1f;font-weight:700;letter-spacing:0.116px;">Mobile App</span>
<div class="b" style="left:1004.7px;top:427.22px;width:48.5px;height:7px;background:#dfe2e7"></div>
<span class="t" style="left:1005.80px;top:425.92px;font-size:7.8px;line-height:10px;color:#7f8a9c;letter-spacing:0.567px;text-shadow:0 0 1.5px #fff,0 0 1.5px #fff,0 0 1px #fff;z-index:3;">Avg</span>
<div class="b" style="left:1004.7px;top:434.82px;width:108.6px;height:7.2px;background:#0a0a8a"></div>
<span class="t" style="left:1059.60px;top:425.01px;font-size:8.4px;line-height:11px;color:#111;font-weight:700;">17</span>
<span class="t" style="left:1118.00px;top:432.81px;font-size:8.4px;line-height:11px;color:#111;font-weight:700;">504</span>
<span class="t" style="left:913.80px;top:445.86px;font-size:9.8px;line-height:13px;color:#1f1f1f;font-weight:700;letter-spacing:0.169px;">BIN/Credit Card</span>
<span class="t" style="left:913.80px;top:464.60px;font-size:9.8px;line-height:13px;color:#1f1f1f;font-weight:700;letter-spacing:0.119px;">Third Party Ve...</span>
<div class="b" style="left:1004.7px;top:464.7px;width:17.0px;height:7px;background:#dfe2e7"></div>
<span class="t" style="left:1005.80px;top:463.40px;font-size:7.8px;line-height:10px;color:#7f8a9c;letter-spacing:0.567px;text-shadow:0 0 1.5px #fff,0 0 1.5px #fff,0 0 1px #fff;z-index:3;">Avg</span>
<div class="b" style="left:1004.7px;top:472.3px;width:27.3px;height:7.2px;background:#0a0a8a"></div>
<span class="t" style="left:1022.30px;top:462.49px;font-size:8.4px;line-height:11px;color:#111;font-weight:700;">2</span>
<span class="t" style="left:1036.20px;top:470.29px;font-size:8.4px;line-height:11px;color:#111;font-weight:700;">5</span>
</body></html>
